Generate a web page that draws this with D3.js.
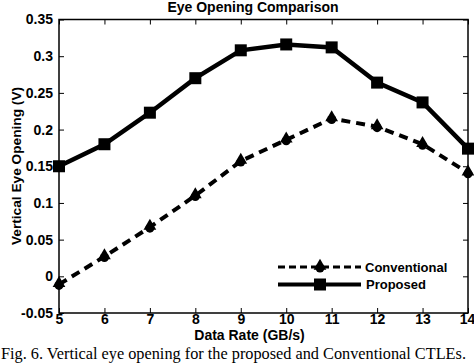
<!DOCTYPE html>
<html>
<head>
<meta charset="utf-8">
<script src="https://cdn.jsdelivr.net/npm/d3@7"></script>
<style>
  body { margin: 0; background: #fff; }
  svg { display: block; }
  .tick text { font-family: Arial, "Liberation Sans", sans-serif; font-weight: bold; font-size: 14px; fill: #000; }
</style>
</head>
<body>
<svg id="chart" width="474" height="363"></svg>
<script>
// data
const rates = [5, 6, 7, 8, 9, 10, 11, 12, 13, 14];
const proposed = [0.150, 0.180, 0.223, 0.270, 0.308, 0.316, 0.312, 0.264, 0.237, 0.174];
const conventional = [-0.011, 0.027, 0.067, 0.110, 0.157, 0.186, 0.215, 0.204, 0.180, 0.141];
const yTicks = [-0.05, 0, 0.05, 0.1, 0.15, 0.2, 0.25, 0.3, 0.35];
const xTicks = [5, 6, 7, 8, 9, 10, 11, 12, 13, 14];

const svg = d3.select('#chart');
const plotLeft = 59, plotRight = 468, plotTop = 19.5, plotBottom = 313;

const x = d3.scaleLinear().domain([5, 14]).range([plotLeft, plotRight]);
const y = d3.scaleLinear().domain([-0.05, 0.35]).range([plotBottom, plotTop]);

const fmt = d => d === 0 ? '0' : String(+d.toFixed(2));

// frame
svg.append('rect')
    .attr('x', plotLeft).attr('y', plotTop)
    .attr('width', plotRight - plotLeft).attr('height', plotBottom - plotTop)
    .attr('fill', 'none').attr('stroke', '#000').attr('stroke-width', 1.5);

const bottomAxis = svg.append('g')
    .attr('transform', `translate(0,${plotBottom})`)
    .call(d3.axisBottom(x).tickValues(xTicks).tickSize(-5).tickPadding(1).tickFormat(d3.format('d')));
const leftAxis = svg.append('g')
    .attr('transform', `translate(${plotLeft},0)`)
    .call(d3.axisLeft(y).tickValues(yTicks).tickSize(-5).tickPadding(6).tickFormat(fmt));
const topAxis = svg.append('g')
    .attr('transform', `translate(0,${plotTop})`)
    .call(d3.axisTop(x).tickValues(xTicks).tickSize(-5).tickFormat(''));
const rightAxis = svg.append('g')
    .attr('transform', `translate(${plotRight},0)`)
    .call(d3.axisRight(y).tickValues(yTicks).tickSize(-5).tickFormat(''));

[bottomAxis, leftAxis, topAxis, rightAxis].forEach(a => {
    a.select('.domain').remove();
    a.selectAll('.tick line').attr('stroke', '#000').attr('stroke-width', 1);
});
bottomAxis.selectAll('.tick text').attr('dy', '0.71em');
// last label sits against the page edge
bottomAxis.selectAll('.tick text').filter(d => d === 14).attr('x', -1);

const line = d3.line().x((d, i) => x(rates[i])).y(d => y(d));

// conventional (dashed, triangles)
svg.append('path')
    .datum(conventional)
    .attr('d', line)
    .attr('fill', 'none').attr('stroke', '#000')
    .attr('stroke-width', 4).attr('stroke-dasharray', '9,6');

const tri = d3.symbol().type(d3.symbolTriangle).size(70);
function convMarker(g, cx, cy) {
    g.append('path').attr('d', tri).attr('transform', `translate(${cx},${cy - 1})`).attr('fill', '#000');
    g.append('circle').attr('cx', cx).attr('cy', cy + 1).attr('r', 4.5).attr('fill', '#000');
}
const convG = svg.append('g');
conventional.forEach((v, i) => convMarker(convG, x(rates[i]), y(v)));

// proposed (solid, squares)
svg.append('path')
    .datum(proposed)
    .attr('d', line)
    .attr('fill', 'none').attr('stroke', '#000')
    .attr('stroke-width', 4.5).attr('stroke-linejoin', 'miter');

svg.append('g').selectAll('rect')
    .data(proposed)
    .join('rect')
    .attr('x', (d, i) => x(rates[i]) - 6)
    .attr('y', d => y(d) - 6)
    .attr('width', 12).attr('height', 12)
    .attr('fill', '#000');

// legend
const lg = svg.append('g');
lg.append('line').attr('x1', 278).attr('x2', 361).attr('y1', 267).attr('y2', 267)
    .attr('stroke', '#000').attr('stroke-width', 3).attr('stroke-dasharray', '7,4');
convMarker(lg, 320, 267);
lg.append('line').attr('x1', 278).attr('x2', 361).attr('y1', 284.5).attr('y2', 284.5)
    .attr('stroke', '#000').attr('stroke-width', 4);
lg.append('rect').attr('x', 314).attr('y', 278.5).attr('width', 12).attr('height', 12).attr('fill', '#000');

const boldFont = 'Arial, "Liberation Sans", sans-serif';
lg.append('text').attr('x', 365).attr('y', 271.5).text('Conventional')
    .attr('font-family', boldFont).attr('font-weight', 'bold').attr('font-size', 13);
lg.append('text').attr('x', 366).attr('y', 289).text('Proposed')
    .attr('font-family', boldFont).attr('font-weight', 'bold').attr('font-size', 13);

// title and axis labels
svg.append('text').attr('x', 253).attr('y', 12).attr('text-anchor', 'middle')
    .attr('font-family', boldFont).attr('font-weight', 'bold').attr('font-size', 14)
    .text('Eye Opening Comparison');

svg.append('text').attr('x', 249.5).attr('y', 339.5).attr('text-anchor', 'middle')
    .attr('font-family', boldFont).attr('font-weight', 'bold').attr('font-size', 14)
    .text('Data Rate (GB/s)');

svg.append('text')
    .attr('transform', 'translate(21,166) rotate(-90)')
    .attr('text-anchor', 'middle')
    .attr('font-family', boldFont).attr('font-weight', 'bold').attr('font-size', 13.7)
    .text('Vertical Eye Opening (V)');

// caption
svg.append('text').attr('x', 1).attr('y', 359)
    .attr('font-family', '"Liberation Serif", "Times New Roman", serif').attr('font-size', 16.3)
    .text('Fig. 6. Vertical eye opening for the proposed and Conventional CTLEs.');
</script>
</body>
</html>
